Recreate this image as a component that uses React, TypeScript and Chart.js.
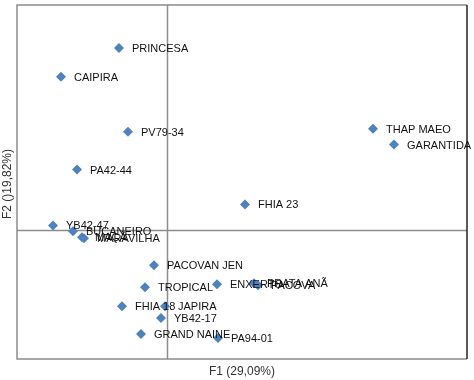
import React, { useEffect, useRef } from "react";
import { Chart, registerables } from "chart.js";

Chart.register(...registerables);

const names = [
  "PRINCESA", "CAIPIRA", "PV79-34", "PA42-44", "THAP MAEO", "GARANTIDA", "FHIA 23",
  "YB42-47", "BUCANEIRO", "MAÇÃ", "MARAVILHA", "PACOVAN JEN", "TROPICAL", "ENXERTO",
  "PRATA ANÃ", "PACOVA", "FHIA 18", "JAPIRA", "YB42-17", "GRAND NAINE", "PA94-01",
];
const f1 = [
  -0.96, -2.12, -0.78, -1.8, 4.12, 4.54, 1.56,
  -2.28, -1.88, -1.7, -1.66, -0.26, -0.44, 1.0,
  1.74, 1.82, -0.9, -0.04, -0.12, -0.52, 1.02,
];
const f2 = [
  3.66, 3.08, 1.98, 1.22, 2.04, 1.72, 0.52,
  0.1, -0.02, -0.14, -0.16, -0.7, -1.14, -1.08,
  -1.06, -1.1, -1.52, -1.52, -1.76, -2.08, -2.16,
];
const xTitle = "F1 (29,09%)";
const yTitle = "F2 ()19,82%)";

const FONT = "'Liberation Sans', Arial, sans-serif";

const decor = {
  id: "decor",
  beforeDatasetsDraw(chart: any) {
    const { ctx, chartArea: a, scales } = chart;
    ctx.save();
    ctx.strokeStyle = "#8c8c8c";
    ctx.lineWidth = 1.5;
    const x0 = Math.round(scales.x.getPixelForValue(0)) + 0.5;
    const y0 = Math.round(scales.y.getPixelForValue(0)) + 0.5;
    ctx.beginPath();
    ctx.moveTo(x0, a.top);
    ctx.lineTo(x0, a.bottom);
    ctx.moveTo(a.left, y0);
    ctx.lineTo(a.right, y0);
    ctx.stroke();
    ctx.strokeStyle = "#8c8c8c";
    ctx.lineWidth = 1.5;
    ctx.beginPath();
    ctx.moveTo(a.right, a.bottom);
    ctx.lineTo(a.left, a.bottom);
    ctx.lineTo(a.left, a.top);
    ctx.lineTo(a.right, a.top);
    ctx.stroke();
    ctx.strokeStyle = "#222";
    ctx.beginPath();
    ctx.moveTo(a.right, a.top);
    ctx.lineTo(a.right, a.bottom);
    ctx.stroke();
    ctx.fillStyle = "#333";
    ctx.font = `12px ${FONT}`;
    ctx.textAlign = "center";
    ctx.textBaseline = "middle";
    ctx.fillText(xTitle, (a.left + a.right) / 2, 372);
    ctx.translate(8, 184);
    ctx.rotate(-Math.PI / 2);
    ctx.fillText(yTitle, 0, 0);
    ctx.restore();
  },
  afterDatasetsDraw(chart: any) {
    const { ctx } = chart;
    const meta = chart.getDatasetMeta(0);
    ctx.save();
    ctx.fillStyle = "#111";
    ctx.font = `11px ${FONT}`;
    ctx.textAlign = "left";
    ctx.textBaseline = "middle";
    meta.data.forEach((el: any, i: number) => {
      ctx.fillText(names[i], el.x + 13, el.y + 1);
    });
    ctx.restore();
  },
};

export default function App() {
  const ref = useRef<HTMLCanvasElement>(null);
  useEffect(() => {
    if (!ref.current) return;
    const chart = new Chart(ref.current, {
      type: "scatter",
      data: {
        datasets: [
          {
            data: f1.map((x, i) => ({ x, y: f2[i] })),
            pointStyle: "rectRot",
            pointRadius: 5,
            backgroundColor: "#4f81bd",
            borderColor: "#4f81bd",
            borderWidth: 0,
          },
        ],
      },
      options: {
        animation: false,
        responsive: false,
        maintainAspectRatio: false,
        layout: { padding: { left: 17, top: 4, right: 7, bottom: 21 } },
        plugins: { legend: { display: false }, tooltip: { enabled: false } },
        scales: {
          x: { type: "linear", display: false, min: -3, max: 6 },
          y: { type: "linear", display: false, min: -2.58, max: 4.52 },
        },
      },
      plugins: [decor],
    });
    return () => chart.destroy();
  }, []);
  return (
    <div style={{ position: "fixed", left: 0, top: 0, width: 474, height: 380, background: "#fff" }}>
      <canvas ref={ref} width={474} height={380} style={{ width: 474, height: 380 }} />
    </div>
  );
}
